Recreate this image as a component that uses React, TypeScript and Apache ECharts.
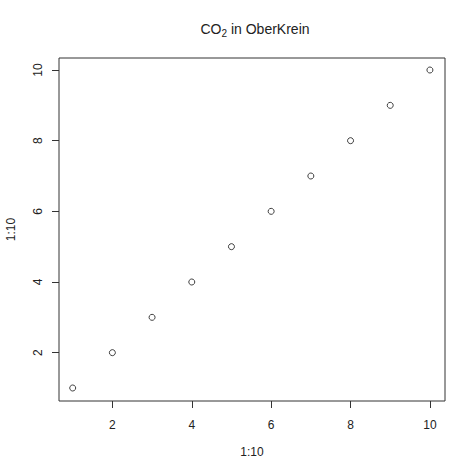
import React, { useEffect, useRef } from "react";
import * as echarts from "echarts";

const xValues = [1, 2, 3, 4, 5, 6, 7, 8, 9, 10];
const yValues = [1, 2, 3, 4, 5, 6, 7, 8, 9, 10];
const tickValues = [2, 4, 6, 8, 10];
const xMin = 0.655;
const xMax = 10.38;
const yMin = 0.632;
const yMax = 10.34;

export default function App() {
  const ref = useRef<HTMLDivElement>(null);
  useEffect(() => {
    if (!ref.current) return;
    const chart = echarts.init(ref.current, null, { renderer: "svg" });
    const font = "'Liberation Sans', Arial, sans-serif";
    chart.setOption({
      animation: false,
      backgroundColor: "#ffffff",
      title: {
        text: "CO{sub|2} in OberKrein",
        left: 250,
        textAlign: "center",
        top: 14,
        textStyle: {
          fontFamily: font,
          fontSize: 14,
          fontWeight: "normal",
          color: "#222",
          rich: {
            sub: { fontSize: 10, verticalAlign: "bottom", padding: [9, 0, 0, 0], fontFamily: font, color: "#222" },
          },
        },
      },
      grid: {
        left: 59,
        right: 29,
        top: 58,
        bottom: 73,
        show: true,
        borderColor: "#333",
        borderWidth: 1,
        containLabel: false,
        outerBoundsMode: "none",
      },
      xAxis: {
        type: "value",
        min: xMin,
        max: xMax,
        name: "1:10",
        nameLocation: "middle",
        nameGap: 45,
        nameTextStyle: { fontFamily: font, fontSize: 12, color: "#222" },
        axisLine: { show: false },
        axisTick: { show: true, length: 7, inside: false, customValues: tickValues, lineStyle: { color: "#333" } },
        axisLabel: { customValues: tickValues, margin: 18, fontFamily: font, fontSize: 12, color: "#222" },
        splitLine: { show: false },
      },
      yAxis: {
        type: "value",
        min: yMin,
        max: yMax,
        name: "1:10",
        nameLocation: "middle",
        nameGap: 42,
        nameRotate: 90,
        nameTextStyle: { fontFamily: font, fontSize: 12, color: "#222" },
        axisLine: { show: false },
        axisTick: { show: true, length: 7, inside: false, customValues: tickValues, lineStyle: { color: "#333" } },
        axisLabel: { customValues: tickValues, rotate: 90, margin: 15, fontFamily: font, fontSize: 12, color: "#222" },
        splitLine: { show: false },
      },
      series: [
        {
          type: "scatter",
          data: xValues.map((x, i) => [x, yValues[i]]),
          symbol: "circle",
          symbolSize: 6,
          itemStyle: { color: "#fff", borderColor: "#111", borderWidth: 1 },
        },
      ],
    });
    return () => chart.dispose();
  }, []);
  return <div ref={ref} style={{ position: "fixed", left: 0, top: 0, width: 474, height: 474 }} />;
}
